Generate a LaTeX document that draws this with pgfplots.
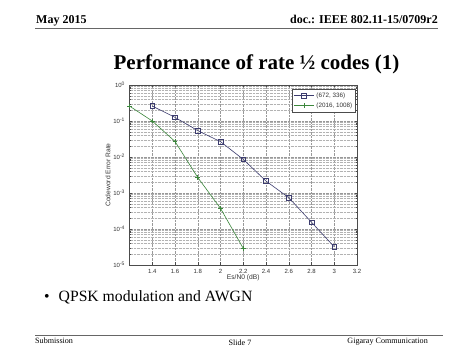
\documentclass[border=0pt]{standalone}
\usepackage{fontspec}
\setmainfont{Liberation Serif}
\newfontfamily\arial{Liberation Sans}
\usepackage{pgfplots}
\pgfplotsset{compat=1.18}
\definecolor{sqcol}{RGB}{60,60,110}
\definecolor{grcol}{RGB}{60,135,60}
\begin{document}
\begin{tikzpicture}[x=1pt,y=1pt]
\fill[white] (0,0) rectangle (474,355);
\useasboundingbox (0,0) rectangle (474,355);
% header
\node[anchor=base west,inner sep=0,font=\fontsize{12}{14}\selectfont\bfseries] at (36,331) {May 2015};
\node[anchor=base east,inner sep=0,font=\fontsize{12}{14}\selectfont\bfseries] at (438,331) {doc.: IEEE 802.11-15/0709r2};
\draw[black!60,line width=0.8pt] (35,327) -- (438,327);
% title
\node[anchor=base,inner sep=0,font=\fontsize{21}{24}\selectfont\bfseries] at (256.5,285) {Performance of rate ½ codes (1)};
% bullet
\node[anchor=base west,inner sep=0,font=\fontsize{15.7}{18}\selectfont] at (44,53) {\textbullet\hspace{9pt}QPSK modulation and AWGN};
% footer
\draw[black!60,line width=0.8pt] (35,20) -- (443,20);
\node[anchor=base west,inner sep=0,font=\fontsize{8.1}{9}\selectfont] at (35,11) {Submission};
\node[anchor=base,inner sep=0,font=\fontsize{8.1}{9}\selectfont] at (240,9) {Slide 7};
\node[anchor=base east,inner sep=0,font=\fontsize{8.1}{9}\selectfont] at (428,11) {Gigaray Communication};
\begin{axis}[
  at={(129.5pt,90pt)}, anchor=south west,
  scale only axis, width=227.5pt, height=180pt,
  xmin=1.2, xmax=3.2, ymode=log, ymin=1e-5, ymax=1,
  xtick={1.4,1.6,1.8,2.0,2.2,2.4,2.6,2.8,3.0,3.2},
  xticklabels={1.4,1.6,1.8,2,2.2,2.4,2.6,2.8,3,3.2},
  ytick={1e-5,1e-4,1e-3,1e-2,1e-1,1},
  yticklabels={10\textsuperscript{-5},10\textsuperscript{-4},10\textsuperscript{-3},10\textsuperscript{-2},10\textsuperscript{-1},10\textsuperscript{0}},
  minor ytick={2e-5,3e-5,4e-5,5e-5,6e-5,7e-5,8e-5,9e-5,
               2e-4,3e-4,4e-4,5e-4,6e-4,7e-4,8e-4,9e-4,
               2e-3,3e-3,4e-3,5e-3,6e-3,7e-3,8e-3,9e-3,
               2e-2,3e-2,4e-2,5e-2,6e-2,7e-2,8e-2,9e-2,
               2e-1,3e-1,4e-1,5e-1,6e-1,7e-1,8e-1,9e-1},
  grid=both,
  major grid style={densely dotted, black!40, line width=0.4pt},
  minor grid style={densely dotted, black!30, line width=0.4pt},
  axis line style={black!70, line width=0.6pt},
  tick align=inside, tick style={black!70},
  major tick length=2.5pt, minor tick length=1.3pt,
  tick label style={font=\arial\fontsize{6}{7}\selectfont, text=black!80},
  xticklabel style={yshift=-1pt},
  yticklabel style={xshift=-1pt},
  every axis x label/.style={at={(axis description cs:0.5,0)}, anchor=center, yshift=-13pt,
     font=\arial\fontsize{6.7}{8}\selectfont, text=black!80},
  every axis y label/.style={at={(axis description cs:0,0.5)}, xshift=-21.5pt, rotate=90, anchor=center,
     font=\arial\fontsize{6.7}{8}\selectfont, text=black!80},
  xlabel={Es/N0 (dB)},
  ylabel={Codeword Error Rate},
  legend style={at={(0.995,0.978)}, anchor=north east, font=\arial\fontsize{6.3}{7.5}\selectfont,
    draw=black!70, inner sep=1.5pt, row sep=0pt, fill=white, text=black!80},
  legend cell align=left,
  legend image code/.code={\draw[mark repeat=2,mark phase=2] plot coordinates {(0pt,0pt) (10pt,0pt) (20pt,0pt)};},
]
\addplot[sqcol, line width=0.6pt, mark=square, mark size=2.4pt, mark options={solid}] coordinates {
 (1.4,0.26) (1.6,0.126) (1.8,0.054) (2.0,0.0267) (2.2,0.0086) (2.4,0.00215) (2.6,0.00074) (2.8,0.000154) (3.0,3.2e-5)};
\addlegendentry{(672, 336)}
\addplot[grcol, line width=0.6pt, mark=+, mark size=2.3pt] coordinates {
 (1.2,0.26) (1.4,0.10) (1.6,0.027) (1.8,0.0027) (2.0,3.75e-4) (2.2,2.9e-5)};
\addlegendentry{(2016, 1008)}
\end{axis}
\end{tikzpicture}
\end{document}
